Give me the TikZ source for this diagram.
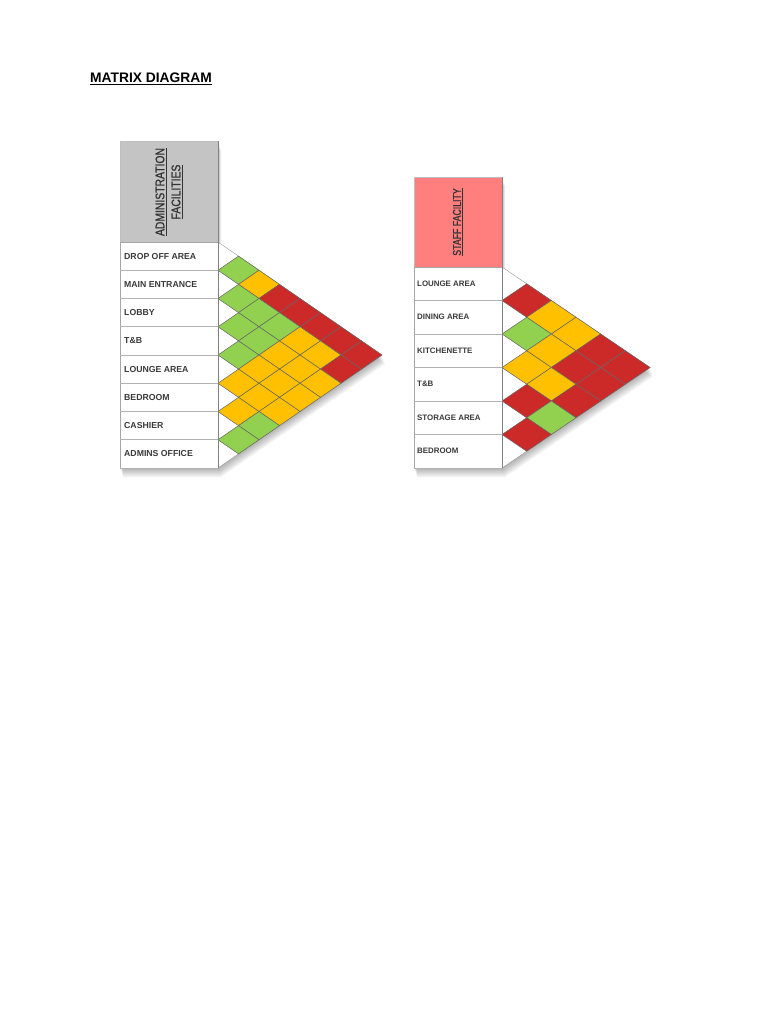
\documentclass[tikz,border=0pt]{standalone}
\usepackage{fontspec}
\setmainfont{Liberation Sans}
\newfontfamily\narrowfont[FakeStretch=0.83, FakeBold=1]{Liberation Sans}
\newfontfamily\narrowerfont[FakeStretch=0.76, FakeBold=1]{Liberation Sans}
\usepackage{xcolor}
\definecolor{cgreen}{HTML}{92D050}
\definecolor{corange}{HTML}{FFC000}
\definecolor{cred}{HTML}{CC2929}
\definecolor{hgray}{HTML}{C4C4C4}
\definecolor{hpink}{HTML}{FF7F7F}
\definecolor{txt}{HTML}{3A3A3A}

\tikzset{
  cellbox/.style={draw=black!60, line width=0.5pt},
  rowline/.style={draw=black!30, line width=0.6pt},
  rowlabel/.style={anchor=west, inner sep=0pt, text=txt},
  headtext/.style={rotate=90, align=center, inner sep=0pt, text=black!80},
  shade/.style={fill=black, opacity=0.05}
}

\begin{document}
\begin{tikzpicture}[x=1pt, y=-1pt]
    \useasboundingbox (0,0) rectangle (768,1024);
    \fill[white] (0,0) rectangle (768,1024);

    % Titulo
    \node[anchor=base west, inner sep=0pt, font=\bfseries\fontsize{13.8}{16}\selectfont] (title) at (90,83) {\underline{MATRIX DIAGRAM}};

    % Administracao (8 linhas)
    \def\xo{218} \def\yo{242} \def\rh{28.25} \def\dx{20.5}
    \foreach \s in {1,...,6}
        \fill[shade, shift={(0.5*\s,1.5*\s)}] (120,141) -- (218,141) -- (218,242) -- (\xo+8*\dx,355) -- (218,468) -- (120,468) -- cycle;
    \filldraw[fill=white, draw=black!40] (218,242) -- (\xo+8*\dx,355) -- (218,468) -- cycle;
    \foreach \i/\j/\c in {1/2/cgreen, 1/3/corange, 1/4/cred, 1/5/cred, 1/6/cred, 1/7/cred, 1/8/cred,
                          2/3/cgreen, 2/4/cgreen, 2/5/cgreen, 2/6/corange, 2/7/corange, 2/8/cred,
                          3/4/cgreen, 3/5/cgreen, 3/6/corange, 3/7/corange, 3/8/corange,
                          4/5/cgreen, 4/6/corange, 4/7/corange, 4/8/corange,
                          5/6/corange, 5/7/corange, 5/8/corange,
                          6/7/corange, 6/8/cgreen, 7/8/cgreen} {
        \pgfmathsetmacro{\cx}{\xo+(\j-\i)*\dx}
        \pgfmathsetmacro{\cy}{\yo+((\i+\j)/2-0.5)*\rh}
        \filldraw[cellbox, fill=\c] (\cx-\dx,\cy) -- (\cx,\cy-\rh/2) -- (\cx+\dx,\cy) -- (\cx,\cy+\rh/2) -- cycle;
    }
    \filldraw[fill=hgray, draw=black!25] (120,141) rectangle (218,242);
    \node[headtext, font=\narrowfont\fontsize{12.5}{16}\selectfont] (admhead) at (169,192) {\underline{ADMINISTRATION}\\\underline{FACILITIES}};
    \filldraw[fill=white, draw=black!35] (120,242) rectangle (218,468);
    \foreach \t [count=\k] in {DROP OFF AREA, MAIN ENTRANCE, LOBBY, {T\&B}, LOUNGE AREA, BEDROOM, CASHIER, ADMINS OFFICE} {
        \pgfmathsetmacro{\ry}{\yo+(\k-0.5)*\rh}
        \node[rowlabel, font=\bfseries\fontsize{8.7}{9}\selectfont] (adm\k) at (124,\ry) {\t};
        \draw[rowline] (120,\yo+\k*\rh) -- (218,\yo+\k*\rh);
    }
    \draw[draw=black!50] (218,141) -- (218,468);

    % Staff (6 linhas)
    \def\xo{502} \def\yo{267} \def\rh{33.5} \def\dx{24.67}
    \foreach \s in {1,...,6}
        \fill[shade, shift={(0.5*\s,1.5*\s)}] (414,177) -- (502,177) -- (502,267) -- (\xo+6*\dx,367.5) -- (502,468) -- (414,468) -- cycle;
    \filldraw[fill=white, draw=black!40] (502,267) -- (\xo+6*\dx,367.5) -- (502,468) -- cycle;
    \foreach \i/\j/\c in {1/2/cred, 1/3/corange, 1/4/corange, 1/5/cred, 1/6/cred,
                          2/3/cgreen, 2/4/corange, 2/5/cred, 2/6/cred,
                          3/4/corange, 3/5/corange, 3/6/cred,
                          4/5/cred, 4/6/cgreen, 5/6/cred} {
        \pgfmathsetmacro{\cx}{\xo+(\j-\i)*\dx}
        \pgfmathsetmacro{\cy}{\yo+((\i+\j)/2-0.5)*\rh}
        \filldraw[cellbox, fill=\c] (\cx-\dx,\cy) -- (\cx,\cy-\rh/2) -- (\cx+\dx,\cy) -- (\cx,\cy+\rh/2) -- cycle;
    }
    \filldraw[fill=hpink, draw=black!25] (414,177) rectangle (502,267);
    \node[headtext, font=\narrowerfont\fontsize{11.5}{14}\selectfont] (stfhead) at (458,222) {\underline{STAFF FACILITY}};
    \filldraw[fill=white, draw=black!35] (414,267) rectangle (502,468);
    \foreach \t [count=\k] in {LOUNGE AREA, DINING AREA, KITCHENETTE, {T\&B}, STORAGE AREA, BEDROOM} {
        \pgfmathsetmacro{\ry}{\yo+(\k-0.5)*\rh}
        \node[rowlabel, font=\bfseries\fontsize{7.9}{9}\selectfont] (stf\k) at (417,\ry) {\t};
        \draw[rowline] (414,\yo+\k*\rh) -- (502,\yo+\k*\rh);
    }
    \draw[draw=black!50] (502,177) -- (502,468);
\end{tikzpicture}
\end{document}
